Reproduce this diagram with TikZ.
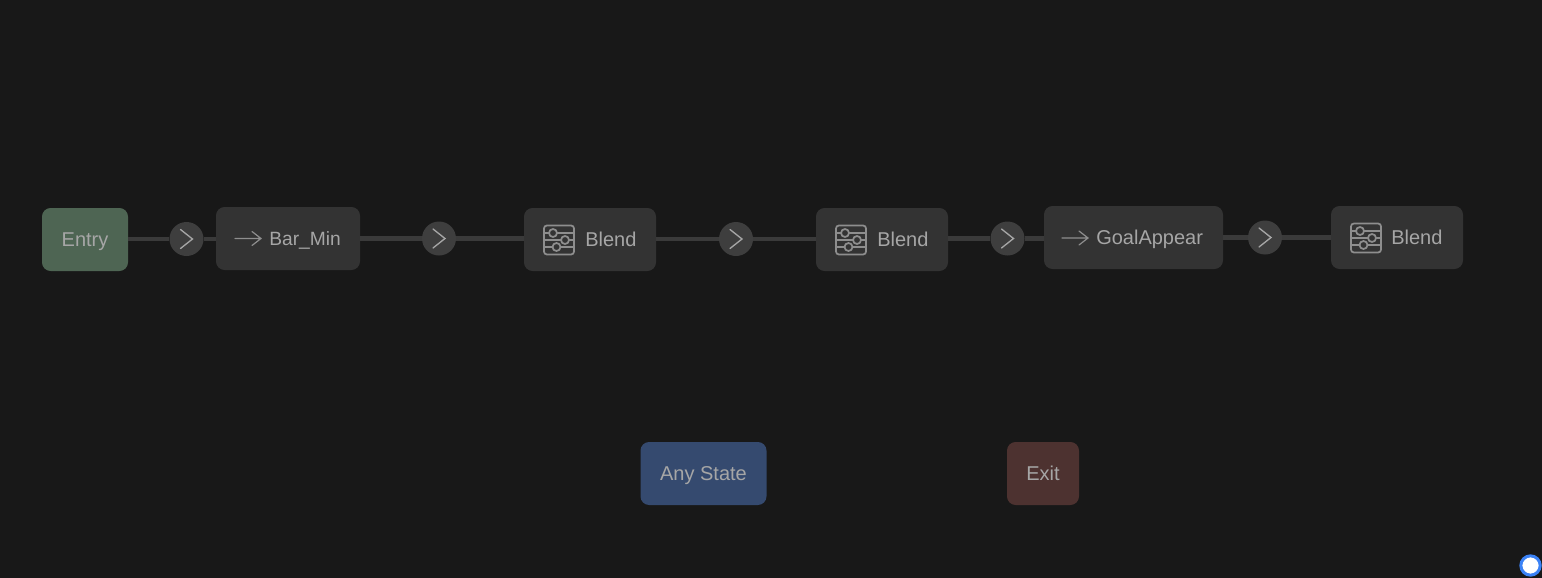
\documentclass[tikz,border=0pt]{standalone}
\usepackage{fontspec}
\setmainfont{Liberation Sans}
\definecolor{bgc}{HTML}{181818}
\definecolor{boxc}{HTML}{333333}
\definecolor{linec}{HTML}{3A3A3A}
\definecolor{knob}{HTML}{3E3E3E}
\definecolor{txt}{HTML}{A6A6A6}
\definecolor{icon}{HTML}{8E8E8E}
\definecolor{entryc}{HTML}{4E6553}
\definecolor{anyc}{HTML}{354A6F}
\definecolor{exitc}{HTML}{4D3230}
\definecolor{ringc}{HTML}{3B82F6}
\tikzset{
  x=0.75pt,y=-0.75pt,
  stateb/.style={draw=none,fill=boxc,rounded corners=6.5pt,minimum height=47.25pt,inner sep=0pt,text=txt,text height=10.5pt,text depth=0pt,font=\fontsize{15}{18}\selectfont},
  label/.style={inner sep=0pt,text=txt,font=\fontsize{15}{18}\selectfont,anchor=base west},
  link/.style={draw=linec,line width=3.4pt},
  knobn/.style={circle,fill=knob,minimum size=25.5pt,inner sep=0pt},
  pics/chev/.style={code={\draw[txt,line width=1pt,line cap=round,line join=miter] (-6,-9.5) -- (6,0) -- (-6,9.5);}},
  pics/harrow/.style={code={\draw[icon,line width=0.9pt,line cap=round] (-13,0) -- (13,0) (4,-7) -- (13,0) -- (4,7);}},
  pics/sliders/.style={code={
    \draw[icon,line width=1.3pt,rounded corners=2.2pt] (-15,-14.5) rectangle (15,14.5);
    \draw[icon,line width=1.3pt] (-15,-7) -- (15,-7) (-15,0) -- (15,0) (-15,7) -- (15,7);
    \draw[icon,line width=1.3pt,fill=boxc] (-6,-7) circle (4) (6,0) circle (4) (-2.5,7) circle (4);
  }}
}
\begin{document}
\begin{tikzpicture}
\useasboundingbox[fill=bgc] (0,0) rectangle (1542,578);
\node[stateb,fill=entryc,minimum width=64.5pt] (entry) at (85,239.5) {Entry};
\node[stateb,minimum width=108pt] (barmin) at (288,238.5) {};
\node[stateb,minimum width=99pt] (blenda) at (590,239.5) {};
\node[stateb,minimum width=99pt] (blendb) at (882,239.5) {};
\node[stateb,minimum width=134.25pt] (goal) at (1133.5,237.5) {};
\node[stateb,minimum width=99pt] (blendc) at (1397,237.5) {};
\node[stateb,fill=anyc,minimum width=94.5pt] (anystate) at (703.5,473.5) {Any State};
\node[stateb,fill=exitc,minimum width=54pt] (exit) at (1043,473.5) {Exit};
\node[knobn] (ka) at (186.5,239) {};
\node[knobn] (kb) at (439,238.5) {};
\node[knobn] (kc) at (736,239) {};
\node[knobn] (kd) at (1007.5,238.5) {};
\node[knobn] (ke) at (1265,237.5) {};
\draw[link] (entry.east |- ka) -- (ka.west);
\draw[link] (ka.east) -- (barmin.west |- ka);
\draw[link] (barmin.east |- kb) -- (kb.west);
\draw[link] (kb.east) -- (blenda.west |- kb);
\draw[link] (blenda.east |- kc) -- (kc.west);
\draw[link] (kc.east) -- (blendb.west |- kc);
\draw[link] (blendb.east |- kd) -- (kd.west);
\draw[link] (kd.east) -- (goal.west |- kd);
\draw[link] (goal.east |- ke) -- (ke.west);
\draw[link] (ke.east) -- (blendc.west |- ke);
\pic at (ka) {chev};
\pic at (kb) {chev};
\pic at (kc) {chev};
\pic at (kd) {chev};
\pic at (ke) {chev};
\pic at (248,238.5) {harrow};
\pic at (1075,238) {harrow};
\pic at (559,240) {sliders};
\pic at (851,240) {sliders};
\pic at (1366,238) {sliders};
\node[label,font=\fontsize{14.4}{18}\selectfont] (t1) at (269,245.5) {Bar\_Min};
\node[label] (t2) at (585,246.5) {Blend};
\node[label] (t3) at (877,246.5) {Blend};
\node[label] (t4) at (1096,244.5) {GoalAppear};
\node[label] (t5) at (1391,244.5) {Blend};
\node[circle,draw=ringc,fill=white,line width=2.25pt,minimum size=14.5pt,inner sep=0pt] (dot) at (1530.5,565.5) {};
\end{tikzpicture}
\end{document}
